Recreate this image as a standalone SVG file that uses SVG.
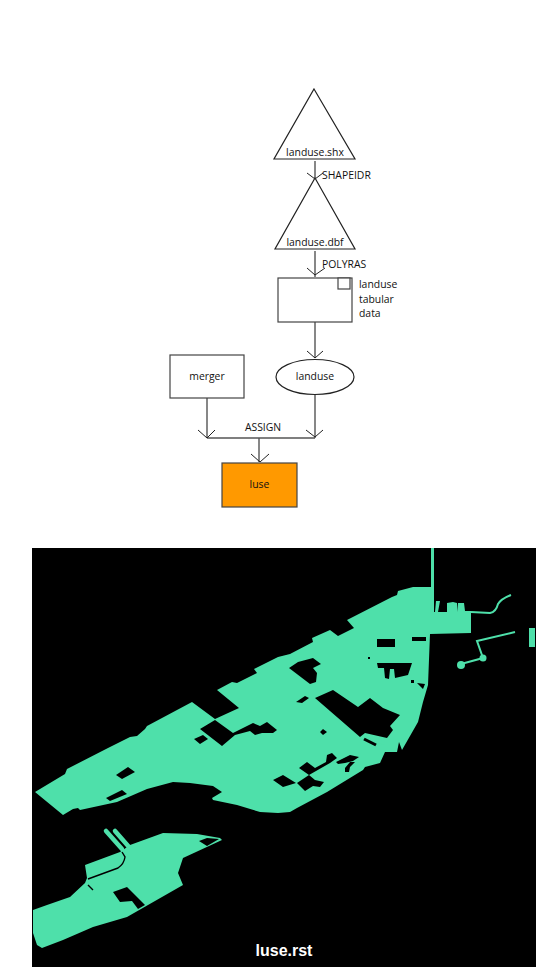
<svg xmlns="http://www.w3.org/2000/svg" width="536" height="967" viewBox="0 0 536 967">
<style>
.s{fill:#fff;stroke:#444;stroke-width:1.2}
.t{font-family:"Open Sans","Noto Sans",sans-serif;font-size:10.4px;fill:#111}
.m{text-anchor:middle}
.c{fill:none;stroke:#555;stroke-width:1.4}
.a{fill:none;stroke:#222;stroke-width:1}
.land{fill:#4ee0aa}
.hole{fill:#000}
.pier{fill:none;stroke:#4ee0aa;stroke-width:2}
</style>
<rect width="536" height="967" fill="#fff"/>
<g id="raster">
<rect x="32" y="548" width="504" height="419" fill="#000"/>
<path class="land" d="M35 792L65 774L67 769L108 748L130 737L137 736L145 729L147 726L192 702L215 719L239 708L217 690L232 682L237 683L257 673L254 669L278 657L290 654L313 642L312 638L330 630L338 636L354 628L347 620L392 597L397 595L398 591L413 587L431 587L431 548L434 548L434 612L435 612L436 601L440 601L438 612L447 612L447 603L453 602L457 603L457 612L458 603L464 603L465 611L471 611L471 633L430 634L428 685L423 702L418 722L402 750L399 742L397 752L385 752L380 763L365 767L363 770L327 792L297 808L290 812L278 813L260 812L237 805L213 800L212 798L222 792L213 786L190 783L173 782L147 789L117 802L80 810L78 808L73 809L63 815Z"/>
<path class="land" d="M33 910L33 933L37 945L42 948L63 940L93 927L127 917L183 885L178 873L183 858L222 840L220 838L197 834L163 833L130 845L120 852L85 865L87 878L85 883L70 897L47 905Z"/>
<rect class="land" x="529" y="628" width="6" height="19"/>
<path class="pier" d="M471 612L490 613Q496 612 498 604Q501 599 511 595"/>
<path class="pier" d="M515 632L477 641L483 658L461 664"/>
<circle class="land" cx="483" cy="658" r="3.5"/>
<circle class="land" cx="461" cy="665" r="4"/>
<path class="pier" style="stroke-width:4.5;stroke-linecap:round" d="M106 831L122 849M115 831L129 847"/>
<path class="hole" d="M315 698L333 690L358 707L370 698L383 708L400 715L390 726L393 730L387 738L365 733L360 737ZM200 729L215 720L233 733L253 723L260 726L267 722L277 730L273 733L262 733L255 735L250 731L235 735L222 746ZM194 739L203 735L208 739L200 744ZM289 668L298 662L313 658L321 664L313 668L317 673L316 682L310 684ZM296 702L305 696L309 698L302 703ZM320 732L323 729L327 732L323 735ZM273 780L283 775L296 783L283 787ZM297 783L309 775L315 780L324 782L320 787L313 786L305 791ZM299 768L307 762L315 768L326 762L327 755L332 753L337 758L330 763L309 775ZM336 762L350 755L359 757L353 761L345 763L338 764ZM345 768L350 762L355 762L350 767L349 772L345 772ZM116 775L128 767L135 772L122 779ZM106 798L122 790L127 794L110 801ZM377 639H395V647H377ZM412 637H426V641H412ZM368 657H370V659H368ZM377 663L412 663L408 675L395 678L394 669L390 669L389 679L385 678L384 668L378 668ZM411 680H414V683H411ZM417 683L425 684L423 689ZM113 892L127 887L145 905L138 909L132 901L120 902ZM199 841L207 838L219 839L207 846Z"/>
<path class="land" d="M365 735L368 734L385 742L384 745L368 738Z"/>
<path fill="none" stroke="#000" stroke-width="1.4" d="M88 879L118 868Q124 864 125 857L122 852M88 885L93 890"/>
<path fill="none" stroke="#000" stroke-width="3" d="M364 739L376 745"/>
<text x="284" y="956" text-anchor="middle" font-family="Liberation Sans, Arial, sans-serif" font-weight="bold" font-size="16" fill="#fff">luse.rst</text>
</g>
<g id="connectors">
<path class="c" d="M315 161V178M315 251V277M315 322V358M207 398V438M315 394V438M207 438H315M259 438V462"/>
<path class="a" d="M307 173L315 179L323 173M307 268L315 275L325 268M307 351L315 358L323 351M198 430L207 438L215 430M306 430L315 437L323 430M251 454L260 462L269 454"/>
<text class="t" x="322" y="179">SHAPEIDR</text>
<text class="t" x="322" y="268">POLYRAS</text>
<text class="t m" x="263" y="431">ASSIGN</text>
</g>
<g id="landuse-shx"><path class="s" style="stroke:#222" d="M314 89L355 159H274Z"/><text class="t m" x="315" y="156">landuse.shx</text></g>
<g id="landuse-dbf"><path class="s" style="stroke:#222" d="M315 178L355 249H275Z"/><text class="t m" x="315" y="246">landuse.dbf</text></g>
<g id="landuse-tabular"><rect class="s" x="278" y="278" width="74" height="44"/><rect class="s" x="338" y="278" width="12" height="11"/><text class="t" x="359" y="288">landuse</text><text class="t" x="359" y="303">tabular</text><text class="t" x="359" y="317">data</text></g>
<g id="merger"><rect class="s" x="170" y="355" width="74" height="43"/><text class="t m" x="207" y="380">merger</text></g>
<g id="landuse"><ellipse class="s" style="stroke:#222" cx="315" cy="377" rx="39" ry="17.5"/><text class="t m" x="315" y="380">landuse</text></g>
<g id="luse"><rect class="s" style="fill:#f90" x="222" y="463" width="75" height="44"/><text class="t m" x="259.5" y="488">luse</text></g>
</svg>
